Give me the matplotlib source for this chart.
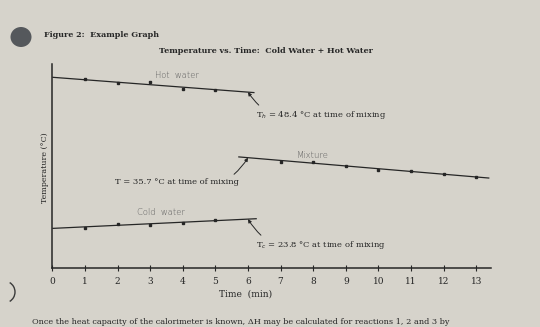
import matplotlib
matplotlib.use("Agg")
import matplotlib.pyplot as plt
from matplotlib.patches import Ellipse, Arc
import numpy as np

# Measured temperatures (°C) against time (min)
hot_time = [1, 2, 3, 4, 5]
hot_temp = [50.85, 50.26, 50.30, 49.00, 48.90]

cold_time = [1, 2, 3, 4, 5]
cold_temp = [22.17, 22.82, 22.62, 23.02, 23.60]

mix_time = [7, 8, 9, 10, 11, 12, 13]
mix_temp = [34.95, 34.82, 34.09, 33.31, 33.19, 32.52, 31.88]

# Extrapolated temperatures at the moment of mixing and trend slopes (°C/min)
t_mixing = 6
hot_at_mixing = 48.4
cold_at_mixing = 23.8
mix_at_mixing = 35.7
hot_slope = -0.48
cold_slope = 0.30
mix_slope = -0.534

# Time span covered by each drawn trend line
hot_span = [0, 6.2]
cold_span = [0, 6.27]
mix_span = [5.7, 13.4]

x_ticks = list(range(0, 14))

BG = "#d6d3cb"
INK = "#262626"
PEN = "#5c5c5c"
SERIF = "DejaVu Serif"

fig = plt.figure(figsize=(5.4, 3.27), dpi=100, facecolor=BG)
ax = fig.add_axes([52.3 / 540, 1 - 268.3 / 327, 438.7 / 540, 204.3 / 327])
ax.set_facecolor(BG)
ax.set_xlim(0, 13.45)
ax.set_ylim(14.27, 53.85)

for side in ("top", "right"):
    ax.spines[side].set_visible(False)
for side in ("left", "bottom"):
    ax.spines[side].set_color(INK)
    ax.spines[side].set_linewidth(1.1)

ax.set_xticks(x_ticks)
ax.set_xticklabels([str(t) for t in x_ticks], family=SERIF, fontsize=6.5, color=INK)
ax.tick_params(axis="x", direction="inout", length=5, width=0.8, color=INK, pad=3.5)
ax.set_yticks([])


def trend(span, at_mix, slope):
    t = np.array(span, dtype=float)
    return t, at_mix + slope * (t - t_mixing)


for span, at_mix, slope, tt, TT in (
    (hot_span, hot_at_mixing, hot_slope, hot_time, hot_temp),
    (cold_span, cold_at_mixing, cold_slope, cold_time, cold_temp),
    (mix_span, mix_at_mixing, mix_slope, mix_time, mix_temp),
):
    lt, lT = trend(span, at_mix, slope)
    ax.plot(lt, lT, color=INK, lw=0.9, solid_capstyle="butt")
    ax.plot(tt, TT, ls="none", marker="s", ms=1.8, color=INK)

# Handwritten series names
hand = dict(family="DejaVu Sans", fontsize=6.0, color=PEN, fontweight="light")
ax.text(3.15, 51.6, "Hot  water", ha="left", va="center", **hand)
ax.text(7.5, 36.1, "Mixture", ha="left", va="center", **hand)
ax.text(2.6, 25.0, "Cold  water", ha="left", va="center", **hand)

# Values at the time of mixing
lab = dict(family=SERIF, fontsize=6, color=INK)
arrow = dict(arrowstyle="-|>", color=INK, lw=0.7, mutation_scale=5, shrinkA=1, shrinkB=0)
ax.annotate(f"T$_h$ = {hot_at_mixing} °C at time of mixing",
            xy=(t_mixing, hot_at_mixing), xytext=(6.25, 44.0),
            ha="left", va="center", **lab,
            arrowprops=dict(**arrow, connectionstyle="arc3,rad=-0.4"))
ax.annotate(f"T = {mix_at_mixing} °C at time of mixing",
            xy=(t_mixing, mix_at_mixing), xytext=(5.73, 31.0),
            ha="right", va="center", **lab,
            arrowprops=dict(**arrow, connectionstyle="arc3,rad=0.4"))
ax.annotate(f"T$_c$ = {cold_at_mixing} °C at time of mixing",
            xy=(t_mixing, cold_at_mixing), xytext=(6.25, 18.8),
            ha="left", va="center", **lab,
            arrowprops=dict(**arrow, connectionstyle="arc3,rad=-0.4"))

# Page text around the graph
fig.text(44 / 540, 1 - 35 / 327, "Figure 2:  Example Graph", family=SERIF,
         fontsize=5.8, fontweight="bold", color=INK, ha="left", va="center")
fig.text(266 / 540, 1 - 51 / 327, "Temperature vs. Time:  Cold Water + Hot Water",
         family=SERIF, fontsize=5.8, fontweight="bold", color=INK, ha="center", va="center")
fig.text(45 / 540, 1 - 168 / 327, "Temperature (°C)", family=SERIF, fontsize=5.7,
         color=INK, rotation=90, ha="center", va="center")
fig.text(246 / 540, 1 - 294 / 327, "Time  (min)", family=SERIF, fontsize=6.5,
         color=INK, ha="center", va="center")
fig.text(32 / 540, 1 - 326 / 327,
         "Once the heat capacity of the calorimeter is known, ΔH may be calculated for reactions 1, 2 and 3 by",
         family=SERIF, fontsize=5.9, color=INK, ha="left", va="bottom")

# Binder holes
fig.patches.append(Ellipse((21 / 540, 1 - 37 / 327), 21 / 540, 20 / 327, transform=fig.transFigure,
                           facecolor="#55585c", edgecolor="none"))
fig.patches.append(Arc((4 / 540, 1 - 292 / 327), 22 / 540, 22 / 327, theta1=-70, theta2=70,
                       transform=fig.transFigure, color="#3a3a3a", lw=1.0))

fig.savefig("out.png", dpi=100, facecolor=BG)
